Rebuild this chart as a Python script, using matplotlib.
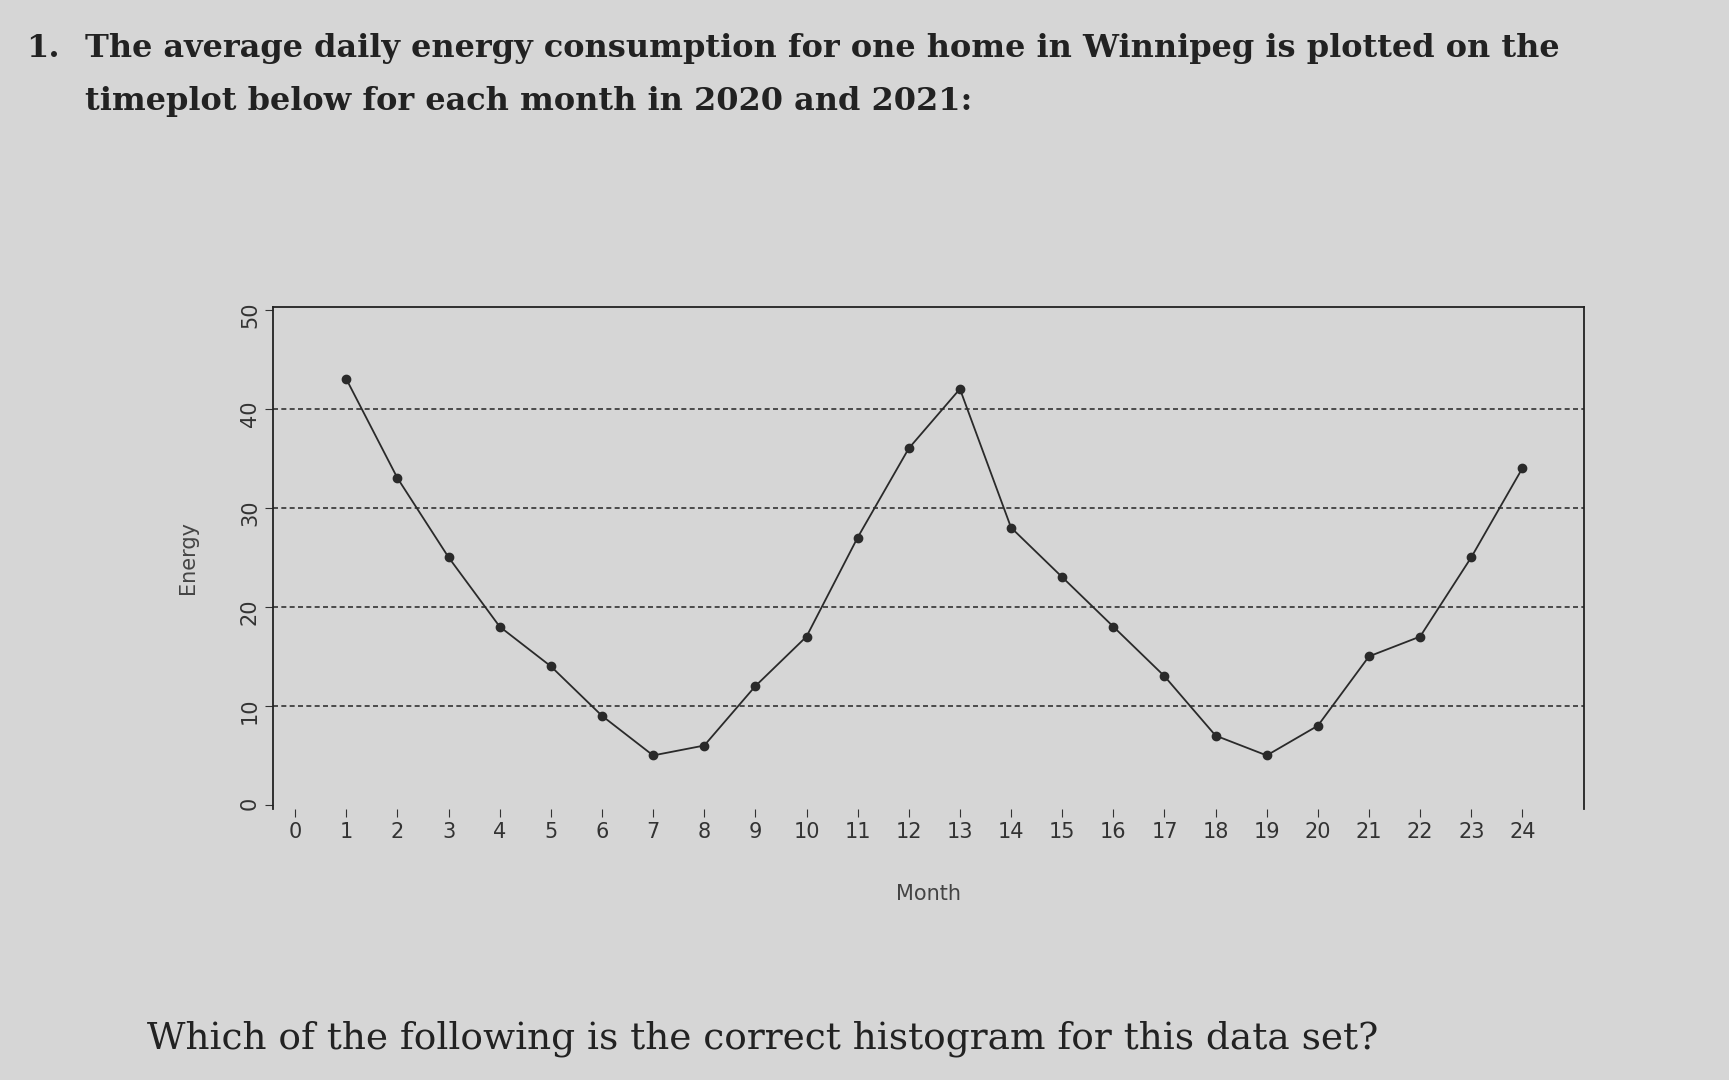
import matplotlib.pyplot as plt

months = list(range(1, 25))
energy = [43, 33, 25, 18, 14, 9, 5, 6, 12, 17, 27, 36,
          42, 28, 23, 18, 13, 7, 5, 8, 15, 17, 25, 34]
x_ticks = list(range(0, 25))
y_ticks = [0, 10, 20, 30, 40, 50]
grid_levels = [10, 20, 30, 40]

BG = "#d6d6d6"

fig = plt.figure(figsize=(17.29, 10.80), dpi=100, facecolor=BG)
ax = fig.add_axes([0.158, 0.251, 0.758, 0.465], facecolor=BG)

ax.plot(months, energy, color="#2a2a2a", lw=1.3, marker="o", ms=6)
for g in grid_levels:
    ax.axhline(g, color="#333333", lw=1.2, ls=(0, (3, 2)), zorder=0)

ax.set_xlim(-0.43, 25.2)
ax.set_ylim(-0.4, 50.3)
ax.set_xticks(x_ticks)
ax.set_yticks(y_ticks)
ax.tick_params(axis="x", labelsize=15, colors="#333333", length=6)
ax.tick_params(axis="y", labelsize=15, colors="#333333", length=6, labelrotation=90)
for s in ["top", "right", "left"]:
    ax.spines[s].set_color("#222222")
    ax.spines[s].set_linewidth(1.3)
ax.spines["bottom"].set_visible(False)

ax.set_xlabel("Month", fontsize=15, color="#444444", labelpad=30)
ax.set_ylabel("Energy", fontsize=15, color="#444444", labelpad=30)

title_kw = dict(fontsize=23, family="DejaVu Serif", fontweight="bold",
                color="#222222", va="center")
fig.text(0.015, 0.955, "1.", **title_kw)
fig.text(0.049, 0.955, "The average daily energy consumption for one home in Winnipeg is plotted on the",
         **title_kw)
fig.text(0.049, 0.906, "timeplot below for each month in 2020 and 2021:", **title_kw)
fig.text(0.085, 0.038, "Which of the following is the correct histogram for this data set?",
         fontsize=27, family="DejaVu Serif", color="#222222", va="center")

fig.savefig("out.png", dpi=100, facecolor=BG)
